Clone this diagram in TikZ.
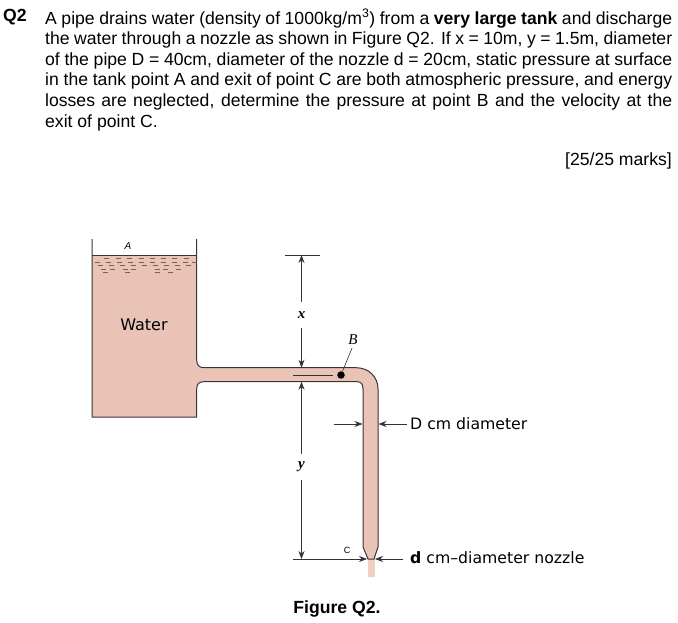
\documentclass[tikz,border=0pt]{standalone}
\usepackage{fontspec}
\setmainfont{Liberation Sans}
\newfontfamily\labelfont{DejaVu Sans}
\newfontfamily\serifit{Liberation Serif}
\usetikzlibrary{arrows.meta}
\definecolor{waterpink}{HTML}{E9C3B5}
\definecolor{jetpink}{HTML}{EFCFC4}
\definecolor{wallgray}{HTML}{3A3533}
\definecolor{dashgray}{HTML}{7A5F58}
\tikzset{
    body/.style={anchor=north west,inner sep=0pt,font=\fontsize{17.6}{20.6}\selectfont},
    dim/.style={black!80,line width=0.7pt,-{Stealth[length=8pt,width=6pt]}},
    tick/.style={black!80,line width=0.7pt},
    wall/.style={wallgray,line width=1pt},
    lab/.style={inner sep=0pt,font=\fontsize{15.7}{18}\labelfont},
    dimlab/.style={fill=white,inner sep=0pt,minimum height=26pt,font=\fontsize{15}{17}\serifit\bfseries\itshape},
}
\begin{document}
\begin{tikzpicture}[x=1pt,y=-1pt]
    \useasboundingbox (0,0) rectangle (678,623);
    % question text
    \node[body] (q) at (3,9) {\textbf{Q2}};
    \node[body,text width=627pt,align=justify] (text) at (45,9) {A pipe drains water (density of 1000kg/m\textsuperscript{3}) from a \textbf{very large tank} and discharge\linebreak
        the water through a nozzle as shown in Figure Q2. If x = 10m, y = 1.5m, diameter\linebreak
        of the pipe D = 40cm, diameter of the nozzle d = 20cm, static pressure at surface\linebreak
        in the tank point A and exit of point C are both atmospheric pressure, and energy\linebreak
        losses are neglected, determine the pressure at point B and the velocity at the\linebreak
        exit of point C.};
    \node[body,anchor=east] (marks) at (672,161) {[25/25 marks]};
    % jet and water
    \fill[jetpink] (368,559) rectangle (375,577);
    \fill[waterpink] (92,255) -- (196.7,255) -- (196.7,360) .. controls (196.7,365) and (199,367.7) .. (204,367.7)
        -- (356,367.7) .. controls (369,367.7) and (378,377) .. (378,389) -- (378,547) -- (374,559) -- (368,559) -- (363,547)
        -- (363,389) .. controls (363,384) and (361,381.7) .. (357,381.7) -- (204,381.7)
        .. controls (199,381.7) and (196.7,384) .. (196.7,389) -- (196.7,417) -- (92,417) -- cycle;
    % walls
    \draw[wall] (92,239) -- (92,417) -- (196.7,417) -- (196.7,389) .. controls (196.7,384) and (199,381.7) .. (204,381.7)
        -- (357,381.7) .. controls (361,381.7) and (363,384) .. (363,389) -- (363,547) -- (368,559) -- (374,559) -- (378,547)
        -- (378,389) .. controls (378,377) and (369,367.7) .. (356,367.7) -- (204,367.7)
        .. controls (199,367.7) and (196.7,365) .. (196.7,360) -- (196.7,239);
    \draw[wall,line width=0.7pt] (92,255) -- (196.7,255);
    % surface dashes
    \foreach \y/\xlist in {258.2/{106,118,129,141,152,163,174,186},262/{97,108,119,130,141,152,163,174,185,194},
        265.2/{100,111,122,133,144,155,166,177,188},269/{103,112,125,133,157,165,178},272.5/{105,127,157,170}} {
        \foreach \x in \xlist {
            \draw[dashgray,line width=0.6pt] (\x-2.5,\y) -- (\x+2.5,\y);
        }
    }
    \node[lab,font=\fontsize{16}{18}\labelfont] (water) at (144,325) {Water};
    \node[inner sep=0pt,font=\fontsize{10}{12}\selectfont\itshape] (A) at (128,246) {A};
    % dimension x and y
    \coordinate (xtop) at (301.5,255);
    \coordinate (xbot) at (301.5,367.7);
    \coordinate (ytop) at (301.5,381.7);
    \coordinate (ybot) at (301.5,559);
    \node[dimlab] (xlab) at (301.5,315) {x};
    \node[dimlab] (ylab) at (301.5,467) {y};
    \draw[tick] (285,255) -- (320,255);
    \draw[tick] (293,375) -- (333,375);
    \draw[tick] (293,559) -- (355,559);
    \draw[dim] (xlab) -- (xtop);
    \draw[dim] (xlab) -- (xbot);
    \draw[dim] (ylab) -- (ytop);
    \draw[dim] (ylab) -- (ybot);
    % point B
    \node[circle,fill=black,inner sep=0pt,minimum size=7.5pt] (ptB) at (341,375) {};
    \node[inner sep=0pt,font=\fontsize{15}{17}\serifit\itshape] (B) at (353,340) {B};
    \draw[tick,line width=0.6pt] (B.south) ++(-1,3) -- (ptB);
    % point C and the two diameters
    \node[inner sep=0pt,font=\fontsize{9}{11}\selectfont] (C) at (347,550) {C};
    \node[lab,anchor=west] (Dlab) at (410,424) {D cm diameter};
    \node[lab,anchor=west] (dlab) at (410,558) {\textbf{d} cm–diameter nozzle};
    \coordinate (Dl) at (334,424);
    \coordinate (Dli) at (362.5,424);
    \coordinate (Dr) at (407,424);
    \coordinate (Dri) at (378.5,424);
    \coordinate (dl) at (340,559);
    \coordinate (dli) at (367,559);
    \coordinate (dr) at (403,559);
    \coordinate (dri) at (375,559);
    \draw[dim] (Dl) -- (Dli);
    \draw[dim] (Dr) -- (Dri);
    \draw[dim] (dl) -- (dli);
    \draw[dim] (dr) -- (dri);
    \node[body,anchor=center] (fig) at (337,609) {\textbf{Figure Q2.}};
\end{tikzpicture}
\end{document}
